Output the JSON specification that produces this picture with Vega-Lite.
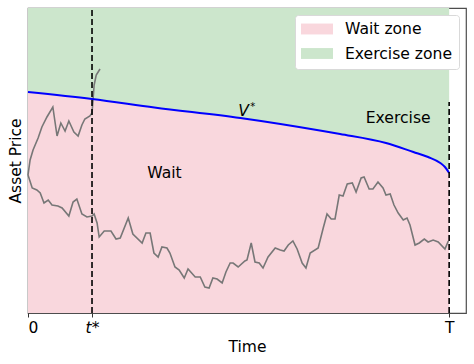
{
  "$schema": "https://vega.github.io/schema/vega-lite/v6.json",
  "width": 438,
  "height": 305,
  "autosize": "none",
  "padding": {"left": 28, "top": 8, "right": 8, "bottom": 51},
  "config": {
    "font": "DejaVu Sans",
    "view": {"stroke": "#4d4d4d", "strokeWidth": 1.2},
    "legend": {
      "orient": "top-right",
      "offset": 7,
      "fillColor": "white",
      "strokeColor": "#d9d9d9",
      "cornerRadius": 3,
      "padding": 6,
      "labelFont": "DejaVu Sans",
      "labelFontSize": 15.6,
      "labelColor": "black",
      "symbolType": "M-1,-0.68H3V0.68H-1Z",
      "symbolSize": 256,
      "symbolStrokeWidth": 0,
      "symbolOpacity": 1,
      "labelOffset": 28,
      "rowPadding": 7.5
    }
  },
  "datasets": {
    "bound": [
      {"t": 0, "v": 221}, {"t": 0.152, "v": 214}, {"t": 0.3, "v": 205.5}, {"t": 0.504, "v": 195},
      {"t": 0.7, "v": 182}, {"t": 0.741, "v": 179}, {"t": 0.85, "v": 170}, {"t": 0.915, "v": 161},
      {"t": 0.95, "v": 156}, {"t": 0.979, "v": 150}, {"t": 0.99, "v": 146}, {"t": 1, "v": 140}
    ],
    "paths": [
      {"path": "A", "t": 0, "v": 138}, {"path": "A", "t": 0.005, "v": 153}, {"path": "A", "t": 0.012, "v": 163},
      {"path": "A", "t": 0.024, "v": 175}, {"path": "A", "t": 0.033, "v": 186}, {"path": "A", "t": 0.045, "v": 196},
      {"path": "A", "t": 0.059, "v": 206}, {"path": "A", "t": 0.069, "v": 177}, {"path": "A", "t": 0.078, "v": 190},
      {"path": "A", "t": 0.088, "v": 182}, {"path": "A", "t": 0.097, "v": 192}, {"path": "A", "t": 0.109, "v": 181},
      {"path": "A", "t": 0.119, "v": 177}, {"path": "A", "t": 0.128, "v": 188}, {"path": "A", "t": 0.135, "v": 194},
      {"path": "A", "t": 0.147, "v": 197}, {"path": "A", "t": 0.152, "v": 200}, {"path": "A", "t": 0.157, "v": 228},
      {"path": "A", "t": 0.162, "v": 238}, {"path": "A", "t": 0.171, "v": 244},
      {"path": "B", "t": 0, "v": 138}, {"path": "B", "t": 0.01, "v": 125}, {"path": "B", "t": 0.021, "v": 123},
      {"path": "B", "t": 0.029, "v": 120}, {"path": "B", "t": 0.038, "v": 110}, {"path": "B", "t": 0.048, "v": 113},
      {"path": "B", "t": 0.057, "v": 108}, {"path": "B", "t": 0.071, "v": 107}, {"path": "B", "t": 0.081, "v": 105},
      {"path": "B", "t": 0.097, "v": 97}, {"path": "B", "t": 0.107, "v": 111}, {"path": "B", "t": 0.116, "v": 114},
      {"path": "B", "t": 0.128, "v": 99}, {"path": "B", "t": 0.14, "v": 96}, {"path": "B", "t": 0.152, "v": 97},
      {"path": "B", "t": 0.157, "v": 99}, {"path": "B", "t": 0.164, "v": 90}, {"path": "B", "t": 0.169, "v": 76},
      {"path": "B", "t": 0.181, "v": 82}, {"path": "B", "t": 0.197, "v": 82}, {"path": "B", "t": 0.209, "v": 74},
      {"path": "B", "t": 0.219, "v": 75}, {"path": "B", "t": 0.238, "v": 95}, {"path": "B", "t": 0.249, "v": 79},
      {"path": "B", "t": 0.271, "v": 70}, {"path": "B", "t": 0.28, "v": 80}, {"path": "B", "t": 0.29, "v": 80},
      {"path": "B", "t": 0.299, "v": 60}, {"path": "B", "t": 0.309, "v": 56}, {"path": "B", "t": 0.318, "v": 66},
      {"path": "B", "t": 0.33, "v": 65}, {"path": "B", "t": 0.337, "v": 60}, {"path": "B", "t": 0.349, "v": 46},
      {"path": "B", "t": 0.359, "v": 43}, {"path": "B", "t": 0.371, "v": 35}, {"path": "B", "t": 0.38, "v": 44},
      {"path": "B", "t": 0.397, "v": 36}, {"path": "B", "t": 0.409, "v": 36}, {"path": "B", "t": 0.42, "v": 26},
      {"path": "B", "t": 0.43, "v": 25}, {"path": "B", "t": 0.439, "v": 35}, {"path": "B", "t": 0.449, "v": 34},
      {"path": "B", "t": 0.461, "v": 30}, {"path": "B", "t": 0.47, "v": 41}, {"path": "B", "t": 0.48, "v": 50},
      {"path": "B", "t": 0.487, "v": 50}, {"path": "B", "t": 0.499, "v": 46}, {"path": "B", "t": 0.515, "v": 52},
      {"path": "B", "t": 0.52, "v": 53}, {"path": "B", "t": 0.53, "v": 70}, {"path": "B", "t": 0.539, "v": 51},
      {"path": "B", "t": 0.549, "v": 50}, {"path": "B", "t": 0.558, "v": 45}, {"path": "B", "t": 0.57, "v": 56},
      {"path": "B", "t": 0.587, "v": 65}, {"path": "B", "t": 0.599, "v": 63}, {"path": "B", "t": 0.608, "v": 62},
      {"path": "B", "t": 0.618, "v": 68}, {"path": "B", "t": 0.629, "v": 72}, {"path": "B", "t": 0.639, "v": 64},
      {"path": "B", "t": 0.651, "v": 50}, {"path": "B", "t": 0.66, "v": 45}, {"path": "B", "t": 0.67, "v": 60},
      {"path": "B", "t": 0.689, "v": 65}, {"path": "B", "t": 0.701, "v": 85}, {"path": "B", "t": 0.71, "v": 99},
      {"path": "B", "t": 0.72, "v": 94}, {"path": "B", "t": 0.729, "v": 94}, {"path": "B", "t": 0.739, "v": 118},
      {"path": "B", "t": 0.748, "v": 117}, {"path": "B", "t": 0.758, "v": 129}, {"path": "B", "t": 0.77, "v": 130},
      {"path": "B", "t": 0.779, "v": 121}, {"path": "B", "t": 0.791, "v": 135}, {"path": "B", "t": 0.798, "v": 136},
      {"path": "B", "t": 0.81, "v": 124}, {"path": "B", "t": 0.819, "v": 124}, {"path": "B", "t": 0.831, "v": 131},
      {"path": "B", "t": 0.843, "v": 125}, {"path": "B", "t": 0.85, "v": 118}, {"path": "B", "t": 0.86, "v": 119},
      {"path": "B", "t": 0.869, "v": 108}, {"path": "B", "t": 0.879, "v": 100}, {"path": "B", "t": 0.891, "v": 93},
      {"path": "B", "t": 0.9, "v": 95}, {"path": "B", "t": 0.907, "v": 88}, {"path": "B", "t": 0.919, "v": 68},
      {"path": "B", "t": 0.929, "v": 70}, {"path": "B", "t": 0.941, "v": 74}, {"path": "B", "t": 0.95, "v": 71},
      {"path": "B", "t": 0.962, "v": 73}, {"path": "B", "t": 0.974, "v": 71}, {"path": "B", "t": 0.99, "v": 64},
      {"path": "B", "t": 0.998, "v": 72}
    ],
    "vlines": [
      {"t": 0.152, "lo": 0, "hi": 305},
      {"t": 1, "lo": 0, "hi": 211}
    ],
    "notes": [
      {"t": 0.324, "v": 135, "label": "Wait"},
      {"t": 0.879, "v": 190, "label": "Exercise"}
    ],
    "vstar": [
      {"t": 0.499, "v": 197, "label": "V"}
    ]
  },
  "layer": [
    {
      "data": {"name": "bound"},
      "mark": {"type": "area", "interpolate": "monotone", "opacity": 1},
      "encoding": {
        "x": {"field": "t", "type": "quantitative", "scale": {"domain": [0, 1.04], "nice": false, "zero": false},
          "axis": {"values": [0, 0.152, 1], "labelExpr": "datum.value == 0 ? '0' : (datum.value < 0.5 ? 't*' : 'T')",
            "labelFontStyle": {"condition": {"test": "datum.value > 0.1 && datum.value < 0.5", "value": "italic"}, "value": "normal"},
            "domain": false, "grid": false, "tickSize": 4, "tickColor": "#333", "labelPadding": 3,
            "labelFontSize": 15.5, "labelColor": "black", "title": "Time", "titleFontSize": 15.5,
            "titleFontWeight": "normal", "titleColor": "black", "titlePadding": 4}},
        "y": {"field": "v", "type": "quantitative", "scale": {"domain": [0, 305], "nice": false, "zero": false},
          "axis": {"domain": false, "ticks": false, "labels": false, "grid": false, "title": "Asset Price",
            "titleFontSize": 15.5, "titleFontWeight": "normal", "titleColor": "black", "titlePadding": 5}},
        "y2": {"datum": 305},
        "color": {"datum": "Exercise zone", "type": "nominal",
          "scale": {"domain": ["Wait zone", "Exercise zone"], "range": ["#f9d7dd", "#cce6cc"]},
          "legend": {"title": null}}
      }
    },
    {
      "data": {"name": "bound"},
      "mark": {"type": "area", "interpolate": "monotone", "opacity": 1},
      "encoding": {
        "x": {"field": "t", "type": "quantitative"},
        "y": {"field": "v", "type": "quantitative"},
        "y2": {"datum": 0},
        "color": {"datum": "Wait zone", "type": "nominal"}
      }
    },
    {
      "data": {"name": "paths"},
      "mark": {"type": "line", "color": "#777777", "strokeWidth": 1.6},
      "encoding": {
        "x": {"field": "t", "type": "quantitative"},
        "y": {"field": "v", "type": "quantitative"},
        "detail": {"field": "path", "type": "nominal"}
      }
    },
    {
      "data": {"name": "bound"},
      "mark": {"type": "line", "interpolate": "monotone", "color": "#0000ff", "strokeWidth": 2},
      "encoding": {
        "x": {"field": "t", "type": "quantitative"},
        "y": {"field": "v", "type": "quantitative"}
      }
    },
    {
      "data": {"name": "vlines"},
      "mark": {"type": "rule", "color": "black", "strokeWidth": 1.6, "strokeDash": [6, 3]},
      "encoding": {
        "x": {"field": "t", "type": "quantitative"},
        "y": {"field": "lo", "type": "quantitative"},
        "y2": {"field": "hi"}
      }
    },
    {
      "data": {"name": "notes"},
      "mark": {"type": "text", "fontSize": 15.6, "align": "center", "baseline": "alphabetic", "color": "black"},
      "encoding": {
        "x": {"field": "t", "type": "quantitative"},
        "y": {"field": "v", "type": "quantitative"},
        "text": {"field": "label"}
      }
    },
    {
      "data": {"name": "vstar"},
      "mark": {"type": "text", "fontSize": 15.6, "fontStyle": "italic", "align": "left", "baseline": "alphabetic", "color": "black"},
      "encoding": {
        "x": {"field": "t", "type": "quantitative"},
        "y": {"field": "v", "type": "quantitative"},
        "text": {"field": "label"}
      }
    },
    {
      "data": {"name": "vstar"},
      "mark": {"type": "text", "fontSize": 10, "align": "left", "baseline": "alphabetic", "dx": 12, "dy": -6, "color": "black"},
      "encoding": {
        "x": {"field": "t", "type": "quantitative"},
        "y": {"field": "v", "type": "quantitative"},
        "text": {"value": "*"}
      }
    }
  ]
}
